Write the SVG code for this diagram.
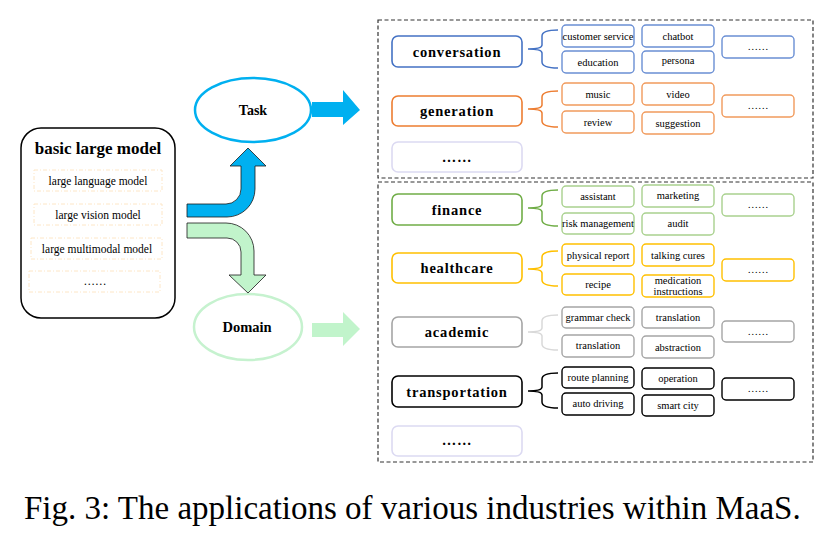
<svg xmlns="http://www.w3.org/2000/svg" width="832" height="543" viewBox="0 0 832 543">
<style>
.t{font-family:"Liberation Serif","Times New Roman",serif;fill:#000;text-anchor:middle}
.b{font-weight:bold}
.main{font-size:14.5px;font-weight:bold;letter-spacing:0.8px}
.sm{font-size:10.5px}
.dash{fill:none;stroke:#333;stroke-width:1.2;stroke-dasharray:4,2.5}
.br{fill:none;stroke-width:1.5}
.mb{fill:#fff;stroke-width:1.6}
.cb{fill:#fff;stroke-width:1.4}
.lav{fill:#fff;stroke:#dcdaf2;stroke-width:1.6}
.inner{fill:#fff;stroke:#fde6c6;stroke-width:1;stroke-dasharray:4,2,1,2}
</style>
<rect width="832" height="543" fill="#fff"/>

<g id="containers">
<rect class="dash" x="378" y="20" width="435" height="158"/>
<rect class="dash" x="378" y="182" width="435" height="280"/>
</g>

<g id="basic-large-model">
<rect x="21" y="128" width="154" height="190" rx="20" fill="#fff" stroke="#000" stroke-width="1.5"/>
<text class="t b" x="98" y="154" font-size="17">basic large model</text>
<rect class="inner" x="34" y="170" width="128" height="21"/>
<text class="t" x="98" y="184.5" font-size="11.5">large language model</text>
<rect class="inner" x="34" y="204" width="128" height="21"/>
<text class="t" x="98" y="218.5" font-size="11.5">large vision model</text>
<rect class="inner" x="31" y="238" width="131" height="21"/>
<text class="t" x="97" y="252.5" font-size="11.5">large multimodal model</text>
<rect class="inner" x="29" y="271" width="131" height="21"/>
<text class="t" x="95" y="285" font-size="11.5">……</text>
</g>

<g id="task">
<ellipse cx="253" cy="110" rx="58" ry="32" fill="#fff" stroke="#00b0f0" stroke-width="2.5"/>
<text class="t b" x="253" y="115" font-size="14">Task</text>
</g>
<g id="domain">
<ellipse cx="248" cy="327" rx="54" ry="33" fill="#fff" stroke="#c6f2cf" stroke-width="2.5"/>
<text class="t b" x="247" y="332" font-size="14.5">Domain</text>
</g>

<g id="connectors">
<path d="M187,204 H226 A15,15 0 0 0 241,189 V166 H230 L248,148 L266,166 H255 V189 A28,28 0 0 1 227,217 H187 Z" fill="#00b0f0" stroke="#1a1a1a" stroke-width="0.8"/>
<path d="M187,223 H226 A28,28 0 0 1 254,251 V275 H266 L248,293 L229,275 H241 V252 A14,14 0 0 0 227,238 H187 Z" fill="#c1f4cb" stroke="#1a1a1a" stroke-width="0.8"/>
<path d="M312,102 H343 V90 L360,110 L343,125 V117 H312 Z" fill="#00b0f0"/>
<path d="M312,323 H343 V312 L360,329 L343,346 V337 H312 Z" fill="#c1f4cb"/>
<path class="br" stroke="#4472c4" d="M558,30 Q542,30 542,36 V45 Q542,49 528,49 Q542,49 542,53 V62 Q542,68 558,68"/>
<path class="br" stroke="#ed7d31" d="M558,91 Q542,91 542,97 V105 Q542,109 528,109 Q542,109 542,113 V121 Q542,127 558,127"/>
<path class="br" stroke="#70ad47" d="M558,190 Q542,190 542,196 V204 Q542,208 528,208 Q542,208 542,212 V220 Q542,226 558,226"/>
<path class="br" stroke="#ffc000" d="M558,251 Q542,251 542,257 V265 Q542,269 528,269 Q542,269 542,273 V280 Q542,286 558,286"/>
<path class="br" stroke="#d9d9d9" d="M558,315 Q542,315 542,321 V328 Q542,332 528,332 Q542,332 542,336 V344 Q542,350 558,350"/>
<path class="br" stroke="#000" d="M558,373 Q542,373 542,379 V387 Q542,391 528,391 Q542,391 542,395 V402 Q542,408 558,408"/>
</g>

<g id="conversation">
<rect class="mb" x="392" y="36" width="130" height="31" rx="6" stroke="#4472c4"/>
<text class="t main" x="457" y="57">conversation</text>
<rect class="cb" x="562" y="25" width="72" height="22" rx="4" stroke="#6a8fd4"/>
<text class="t sm" x="598" y="40">customer service</text>
<rect class="cb" x="562" y="51" width="72" height="22" rx="4" stroke="#6a8fd4"/>
<text class="t sm" x="598" y="66">education</text>
<rect class="cb" x="642" y="25" width="72" height="22" rx="4" stroke="#6a8fd4"/>
<text class="t sm" x="678" y="40">chatbot</text>
<rect class="cb" x="642" y="51" width="72" height="22" rx="4" stroke="#6a8fd4"/>
<text class="t sm" x="678" y="64">persona</text>
<rect class="cb" x="722" y="36" width="72" height="22" rx="4" stroke="#6a8fd4"/>
<text class="t sm" x="758" y="50">……</text>
</g>

<g id="generation">
<rect class="mb" x="392" y="96" width="130" height="30" rx="6" stroke="#ed7d31"/>
<text class="t main" x="457" y="116">generation</text>
<rect class="cb" x="562" y="83" width="72" height="22" rx="4" stroke="#f19a5c"/>
<text class="t sm" x="598" y="98">music</text>
<rect class="cb" x="562" y="111" width="72" height="22" rx="4" stroke="#f19a5c"/>
<text class="t sm" x="598" y="126">review</text>
<rect class="cb" x="642" y="83" width="72" height="22" rx="4" stroke="#f19a5c"/>
<text class="t sm" x="678" y="98">video</text>
<rect class="cb" x="642" y="112" width="72" height="22" rx="4" stroke="#f19a5c"/>
<text class="t sm" x="678" y="127">suggestion</text>
<rect class="cb" x="722" y="95" width="72" height="22" rx="4" stroke="#f19a5c"/>
<text class="t sm" x="758" y="109">……</text>
</g>

<g id="task-more">
<rect class="lav" x="392" y="142" width="130" height="30" rx="6"/>
<text class="t main" x="457" y="162">……</text>
</g>

<g id="finance">
<rect class="mb" x="392" y="194" width="130" height="31" rx="6" stroke="#70ad47"/>
<text class="t main" x="457" y="215">finance</text>
<rect class="cb" x="562" y="186" width="72" height="21" rx="4" stroke="#a9d18e"/>
<text class="t sm" x="598" y="200">assistant</text>
<rect class="cb" x="562" y="213" width="72" height="21" rx="4" stroke="#a9d18e"/>
<text class="t sm" x="598" y="227">risk management</text>
<rect class="cb" x="642" y="185" width="72" height="22" rx="4" stroke="#a9d18e"/>
<text class="t sm" x="678" y="199">marketing</text>
<rect class="cb" x="642" y="213" width="72" height="22" rx="4" stroke="#a9d18e"/>
<text class="t sm" x="678" y="227">audit</text>
<rect class="cb" x="722" y="194" width="72" height="22" rx="4" stroke="#a9d18e"/>
<text class="t sm" x="758" y="208">……</text>
</g>

<g id="healthcare">
<rect class="mb" x="392" y="253" width="130" height="30" rx="6" stroke="#ffc000"/>
<text class="t main" x="457" y="273">healthcare</text>
<rect class="cb" x="562" y="244" width="72" height="22" rx="4" stroke="#ffc000"/>
<text class="t sm" x="598" y="259">physical report</text>
<rect class="cb" x="562" y="274" width="72" height="21" rx="4" stroke="#ffc000"/>
<text class="t sm" x="598" y="288">recipe</text>
<rect class="cb" x="642" y="244" width="72" height="22" rx="4" stroke="#ffc000"/>
<text class="t sm" x="678" y="259">talking cures</text>
<rect class="cb" x="642" y="275" width="72" height="22" rx="4" stroke="#ffc000"/>
<text class="t sm" x="678" y="284">medication</text>
<text class="t sm" x="678" y="295">instructions</text>
<rect class="cb" x="722" y="259" width="72" height="22" rx="4" stroke="#ffc000"/>
<text class="t sm" x="758" y="273">……</text>
</g>

<g id="academic">
<rect class="mb" x="392" y="317" width="130" height="30" rx="6" stroke="#a5a5a5"/>
<text class="t main" x="457" y="337">academic</text>
<rect class="cb" x="562" y="307" width="72" height="21" rx="4" stroke="#a5a5a5"/>
<text class="t sm" x="598" y="321">grammar check</text>
<rect class="cb" x="562" y="335" width="72" height="22" rx="4" stroke="#a5a5a5"/>
<text class="t sm" x="598" y="349">translation</text>
<rect class="cb" x="642" y="307" width="72" height="21" rx="4" stroke="#a5a5a5"/>
<text class="t sm" x="678" y="321">translation</text>
<rect class="cb" x="642" y="336" width="72" height="22" rx="4" stroke="#a5a5a5"/>
<text class="t sm" x="678" y="351">abstraction</text>
<rect class="cb" x="722" y="321" width="72" height="21" rx="4" stroke="#a5a5a5"/>
<text class="t sm" x="758" y="335">……</text>
</g>

<g id="transportation">
<rect class="mb" x="392" y="376" width="130" height="31" rx="6" stroke="#000"/>
<text class="t main" x="457" y="397">transportation</text>
<rect class="cb" x="562" y="367" width="72" height="21" rx="4" stroke="#000"/>
<text class="t sm" x="598" y="381">route planning</text>
<rect class="cb" x="562" y="393" width="72" height="22" rx="4" stroke="#000"/>
<text class="t sm" x="598" y="407">auto driving</text>
<rect class="cb" x="642" y="368" width="72" height="21" rx="4" stroke="#000"/>
<text class="t sm" x="678" y="382">operation</text>
<rect class="cb" x="642" y="395" width="72" height="21" rx="4" stroke="#000"/>
<text class="t sm" x="678" y="409">smart city</text>
<rect class="cb" x="722" y="378" width="72" height="22" rx="4" stroke="#000"/>
<text class="t sm" x="758" y="392">……</text>
</g>

<g id="domain-more">
<rect class="lav" x="392" y="426" width="130" height="30" rx="6"/>
<text class="t main" x="457" y="445">……</text>
</g>

<text x="24" y="519" font-family="'Liberation Serif','Times New Roman',serif" font-size="33" fill="#000">Fig. 3: The applications of various industries within MaaS.</text>
</svg>
